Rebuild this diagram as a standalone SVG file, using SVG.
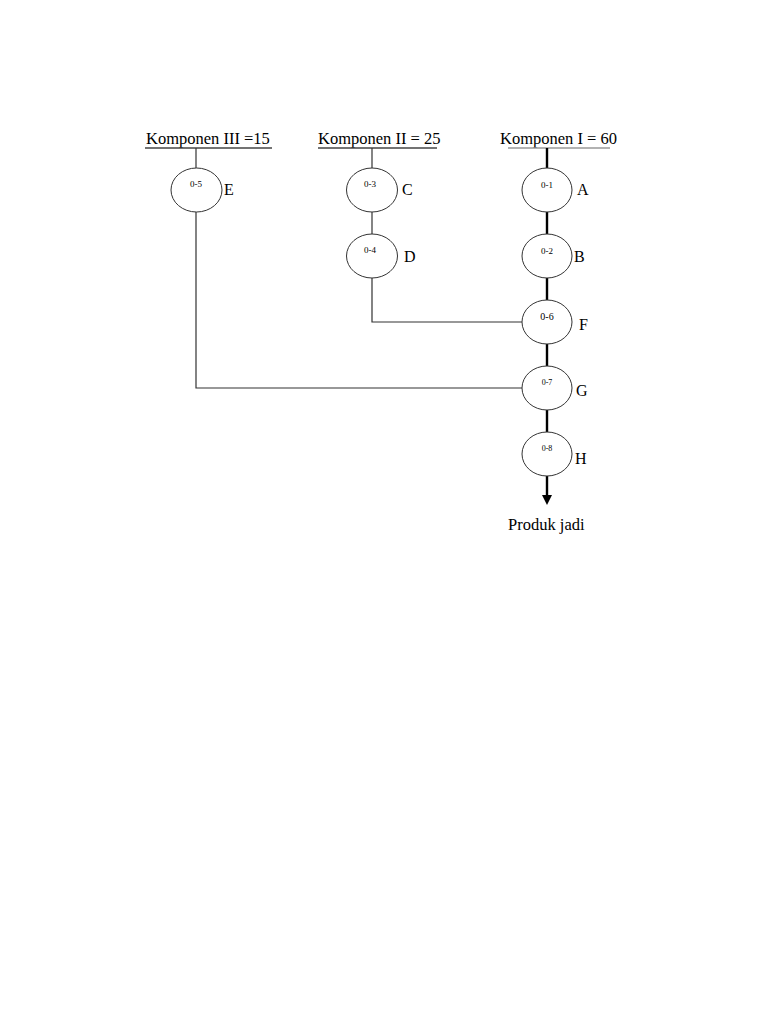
<svg xmlns="http://www.w3.org/2000/svg" width="768" height="1024" viewBox="0 0 768 1024">
<style>
.hdr{font-family:"Liberation Serif",serif;font-size:16.5px;fill:#000}
.lbl{font-family:"Liberation Serif",serif;font-size:16px;fill:#000}
.in{font-family:"Liberation Serif",serif;font-size:9px;fill:#000;text-anchor:middle}
.node{fill:#fff;stroke:#333;stroke-width:1}
.thin{stroke:#333;stroke-width:1.2;fill:none}
.thick{stroke:#000;stroke-width:2.4;fill:none}
</style>
<defs>
<marker id="arr" markerWidth="10" markerHeight="10" refX="5" refY="5" orient="auto" markerUnits="userSpaceOnUse">
<path d="M0,0 L10,5 L0,10 z" fill="#000"/>
</marker>
</defs>
<rect width="768" height="1024" fill="#fff"/>
<g id="headers">
<text class="hdr" x="146" y="144">Komponen III =15</text>
<line x1="145" y1="148" x2="272" y2="148" stroke="#444" stroke-width="1.5"/>
<text class="hdr" x="318" y="144">Komponen II = 25</text>
<line x1="318" y1="148" x2="437" y2="148" stroke="#444" stroke-width="1.5"/>
<text class="hdr" x="500" y="144">Komponen I = 60</text>
<line x1="508" y1="148" x2="610" y2="148" stroke="#999" stroke-width="1.5"/>
</g>
<g id="connectors">
<line class="thin" x1="196" y1="148" x2="196" y2="168"/>
<line class="thin" x1="372" y1="148" x2="372" y2="168"/>
<line class="thin" x1="372" y1="212" x2="372" y2="234"/>
<polyline class="thin" points="372,278 372,322 522,322"/>
<polyline class="thin" points="196,212 196,388 522,388"/>
<line class="thick" x1="547" y1="148" x2="547" y2="168"/>
<line class="thick" x1="547" y1="212" x2="547" y2="234"/>
<line class="thick" x1="547" y1="278" x2="547" y2="300"/>
<line class="thick" x1="547" y1="344" x2="547" y2="366"/>
<line class="thick" x1="547" y1="410" x2="547" y2="432"/>
<line class="thick" x1="547" y1="476" x2="547" y2="500" marker-end="url(#arr)"/>
</g>
<g id="node-E"><ellipse class="node" cx="196.5" cy="190" rx="25.5" ry="22"/><text class="in" x="196" y="187">0-5</text><text class="lbl" x="224" y="195">E</text></g>
<g id="node-C"><ellipse class="node" cx="372" cy="190" rx="25.5" ry="22"/><text class="in" x="370" y="187">0-3</text><text class="lbl" x="402" y="195">C</text></g>
<g id="node-D"><ellipse class="node" cx="372" cy="256" rx="25.5" ry="22"/><text class="in" x="370" y="253">0-4</text><text class="lbl" x="404" y="262">D</text></g>
<g id="node-A"><ellipse class="node" cx="547" cy="190" rx="25" ry="22"/><text class="in" x="547" y="188">0-1</text><text class="lbl" x="577" y="195">A</text></g>
<g id="node-B"><ellipse class="node" cx="547" cy="256" rx="25" ry="22"/><text class="in" x="547" y="254">0-2</text><text class="lbl" x="574" y="262">B</text></g>
<g id="node-F"><ellipse class="node" cx="547" cy="322" rx="25" ry="22"/><text class="in" x="547" y="320" style="font-size:10px">0-6</text><text class="lbl" x="579" y="330">F</text></g>
<g id="node-G"><ellipse class="node" cx="547" cy="388" rx="25" ry="22"/><text class="in" x="547" y="385" style="font-size:8px">0-7</text><text class="lbl" x="576" y="396">G</text></g>
<g id="node-H"><ellipse class="node" cx="547" cy="454" rx="25" ry="22"/><text class="in" x="547" y="451" style="font-size:8px">0-8</text><text class="lbl" x="575" y="464">H</text></g>
<g id="output"><text class="hdr" x="508" y="530">Produk jadi</text></g>
</svg>
